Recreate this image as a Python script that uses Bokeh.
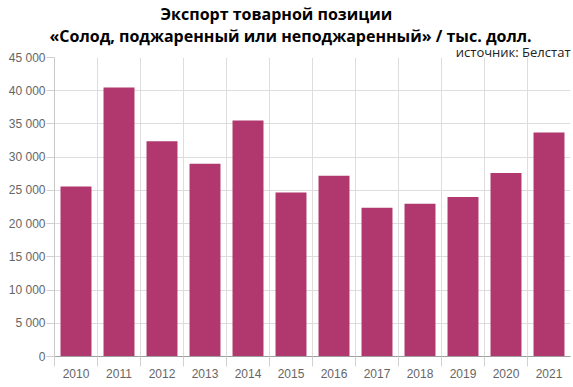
from bokeh.plotting import figure
from bokeh.models import Range1d, FixedTicker, Title
from bokeh.embed import file_html
from bokeh.resources import INLINE

years = ["2010", "2011", "2012", "2013", "2014", "2015", "2016",
         "2017", "2018", "2019", "2020", "2021"]
export_values = [25600, 40500, 32400, 29000, 35500, 24700, 27200,
                 22400, 23000, 24000, 27600, 33700]
y_ticks = [0, 5000, 10000, 15000, 20000, 25000, 30000, 35000, 40000, 45000]
title_line1 = "Экспорт товарной позиции"
title_line2 = "«Солод, поджаренный или неподжаренный» / тыс. долл."
source_text = "источник: Белстат"

n = len(years)
xs = [i + 0.5 for i in range(n)]

p = figure(width=572, height=386, output_backend="svg", toolbar_location=None,
           x_range=Range1d(0, n), y_range=Range1d(0, 45000),
           min_border_left=54, min_border_right=2, min_border_top=57,
           min_border_bottom=30)
p.outline_line_color = None
p.background_fill_color = "white"
p.border_fill_color = "white"

p.vbar(x=xs, top=export_values, width=0.72, fill_color="#B0386E",
       line_color=None)

# x axis: labels at centres, ticks/grid at boundaries
p.xaxis.ticker = FixedTicker(ticks=xs, minor_ticks=list(range(0, n)))
p.xaxis.major_label_overrides = {x: y for x, y in zip(xs, years)}
p.xaxis.major_tick_out = 0
p.xaxis.major_tick_in = 0
p.xaxis.minor_tick_out = 10
p.xaxis.minor_tick_in = 0
p.xaxis.minor_tick_line_color = "#d0d0d0"
p.xaxis.axis_line_color = "#a0a0a0"
p.xaxis.major_label_standoff = 2
p.xaxis.major_label_text_font = "Liberation Sans"
p.xaxis.major_label_text_font_size = "12px"
p.xaxis.major_label_text_color = "#666666"

p.xgrid.ticker = FixedTicker(ticks=list(range(1, n)))
p.xgrid.grid_line_color = "#dddddd"

# y axis
p.yaxis.ticker = FixedTicker(ticks=y_ticks)
p.yaxis.major_label_overrides = {t: f"{t:,}".replace(",", " ") for t in y_ticks}
p.yaxis.major_tick_out = 8
p.yaxis.major_tick_in = 0
p.yaxis.major_tick_line_color = "#d0d0d0"
p.yaxis.minor_tick_line_color = None
p.yaxis.axis_line_color = "#c8c8c8"
p.yaxis.major_label_standoff = 1
p.yaxis.major_label_text_font = "Liberation Sans"
p.yaxis.major_label_text_font_size = "12px"
p.yaxis.major_label_text_color = "#666666"
p.ygrid.grid_line_color = "#dddddd"

# titles (first added = closest to the plot)
p.add_layout(Title(text=source_text, align="right", offset=0, standoff=-7,
                   text_font="Open Sans", text_font_style="normal",
                   text_font_size="13px", text_color="#222222"), "above")
p.add_layout(Title(text=title_line2, align="left", offset=-5, standoff=-4,
                   text_font="Open Sans", text_font_style="bold",
                   text_font_size="16px", text_color="#000000"), "above")
p.add_layout(Title(text=title_line1, align="left", offset=106, standoff=0,
                   text_font="Open Sans", text_font_style="bold",
                   text_font_size="16px", text_color="#000000"), "above")

open("out.html", "w").write(file_html(p, INLINE))
